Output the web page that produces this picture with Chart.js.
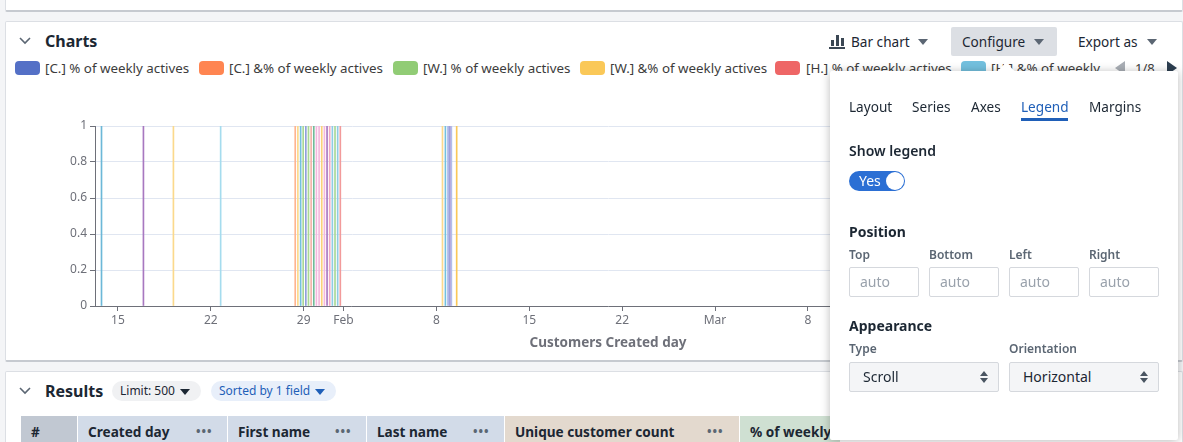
<!DOCTYPE html>
<html>
<head>
<meta charset="utf-8">
<script src="https://cdn.jsdelivr.net/npm/chart.js@4/dist/chart.umd.js"></script>
<style>
  html, body { margin: 0; padding: 0; }
  body { width: 1183px; height: 442px; overflow: hidden; position: relative; background: #f4f5f7; font-family: "Noto Sans", sans-serif; color: #1c2733; }
  .abs { position: absolute; white-space: nowrap; }
  .panel { position: absolute; background: #fff; border: 1px solid #dcdfe4; border-bottom: 2px solid #c6cad0; border-radius: 2px; box-sizing: border-box; }
  .caret { position: absolute; width: 0; height: 0; border-left: 5px solid transparent; border-right: 5px solid transparent; border-top: 6px solid #5b6673; }
  .swatch { position: absolute; top: 61px; width: 25px; height: 14px; border-radius: 4px; }
  .legend-text { position: absolute; top: 59px; font-size: 13.35px; line-height: 18px; color: #3c3c3c; white-space: nowrap; }
  .th { position: absolute; top: 416px; height: 30px; line-height: 31px; font-size: 13.6px; font-weight: 700; padding-left: 10px; box-sizing: border-box; white-space: nowrap; overflow: hidden; color: #1c2733; }
  .dots { position: absolute; top: 416px; line-height: 31px; font-size: 12px; font-weight: 700; color: #5b6673; letter-spacing: 1px; }
  #popup { position: absolute; left: 830px; top: 71px; width: 348px; height: 369px; background: #fff; border-radius: 2px; box-shadow: 0 1px 10px rgba(0,0,0,.28); }
  #notch { position: absolute; left: 1000px; top: 65px; width: 12px; height: 12px; background: #fff; transform: rotate(45deg); }
  .lbl { font-size: 12px; font-weight: 600; color: #5b6673; }
  .head { font-size: 14px; font-weight: 700; color: #1c2733; }
  .tool { font-size: 13.6px; line-height: 20px; }
  .inp { position: absolute; width: 70px; height: 30px; border: 1px solid #d5d8dd; border-radius: 2px; box-sizing: border-box; font-size: 14px; line-height: 28px; padding-left: 10px; color: #9aa2ac; }
  .sel { position: absolute; top: 362px; width: 150px; height: 30px; border: 1px solid #d5d8dd; border-radius: 2px; box-sizing: border-box; background: #f4f5f7; font-size: 14px; line-height: 28px; padding-left: 13px; color: #1c2733; }
  .updown { position: absolute; right: 9px; top: 7px; }
</style>
</head>
<body>
<div class="panel" style="left:5px;top:-10px;width:1178px;height:22px;"></div>
<div class="panel" style="left:5px;top:21px;width:1178px;height:341px;"></div>
<div class="panel" style="left:5px;top:371px;width:1178px;height:90px;"></div>

<svg class="abs" style="left:18px;top:36px" width="14" height="10"><path d="M2 2 L7 7 L12 2" fill="none" stroke="#5b6673" stroke-width="1.6"/></svg>
<div class="abs" style="left:45px;top:30px;font-size:16px;font-weight:700;line-height:22px;">Charts</div>

<svg class="abs" style="left:828px;top:34px" width="18" height="15"><path d="M1 14h16" stroke="#3b4754" stroke-width="2"/><path d="M3 6h3v6H3zM8 1h3v11H8zM13 4h3v8h-3z" fill="#3b4754"/></svg>
<div class="abs tool" style="left:851px;top:32px;">Bar chart</div>
<div class="caret" style="left:918px;top:39px"></div>
<div class="abs" style="left:951px;top:27px;width:106px;height:29px;background:#dcdfe4;border-radius:2px;"></div>
<div class="abs tool" style="left:962px;top:32px;">Configure</div>
<div class="caret" style="left:1034px;top:39px"></div>
<div class="abs tool" style="left:1078px;top:32px;">Export as</div>
<div class="caret" style="left:1147px;top:39px"></div>

<div id="legend"></div>

<canvas id="chart" class="abs" style="left:0;top:101px" width="1183" height="260"></canvas>

<svg class="abs" style="left:18px;top:386px" width="14" height="10"><path d="M2 2 L7 7 L12 2" fill="none" stroke="#5b6673" stroke-width="1.6"/></svg>
<div class="abs" style="left:45px;top:380px;font-size:16px;font-weight:700;line-height:22px;">Results</div>
<div class="abs" style="left:112px;top:381px;width:89px;height:20px;border-radius:10px;background:#f0f1f3;font-size:12px;line-height:20px;padding-left:8px;box-sizing:border-box;color:#1c2733;">Limit: 500</div>
<div class="caret" style="left:180px;top:389px;border-top-color:#1c2733"></div>
<div class="abs" style="left:211px;top:381px;width:125px;height:20px;border-radius:10px;background:#e8effa;font-size:12px;line-height:20px;padding-left:8px;box-sizing:border-box;color:#1f5fb8;">Sorted by 1 field</div>
<div class="caret" style="left:315px;top:389px;border-top-color:#1f5fb8"></div>

<div class="th" style="left:21px;width:56px;background:#c1c8d2;">#</div>
<div class="th" style="left:78px;width:149px;background:#d2dbe8;">Created day</div><div class="dots" style="left:196px">•••</div>
<div class="th" style="left:228px;width:138px;background:#d2dbe8;">First name</div><div class="dots" style="left:335px">•••</div>
<div class="th" style="left:367px;width:137px;background:#d2dbe8;">Last name</div><div class="dots" style="left:473px">•••</div>
<div class="th" style="left:505px;width:234px;background:#e3d9ce;">Unique customer count</div><div class="dots" style="left:707px">•••</div>
<div class="th" style="left:740px;width:100px;background:#cfe0d2;">% of weekly actives</div>

<svg class="abs" style="left:1113px;top:60px" width="13" height="16"><path d="M12 1 L12 15 L2 8 Z" fill="#a9aeb5"/></svg>
<div class="abs" style="left:1135px;top:59px;font-size:13px;line-height:18px;color:#3c3c3c;">1/8</div>
<svg class="abs" style="left:1166px;top:60px" width="13" height="16"><path d="M1 1 L1 15 L11 8 Z" fill="#2c3e50"/></svg>

<div id="popup"></div>
<div id="notch"></div>
<div class="abs" style="left:1000px;top:71px;width:14px;height:8px;background:#fff;"></div>
<div class="abs tool" style="left:849px;top:97px;">Layout</div>
<div class="abs tool" style="left:912px;top:97px;">Series</div>
<div class="abs tool" style="left:971px;top:97px;">Axes</div>
<div class="abs tool" style="left:1021px;top:97px;color:#1f5fb8;">Legend</div>
<div class="abs" style="left:1021px;top:118px;width:47px;height:3px;background:#1f5fb8;"></div>
<div class="abs tool" style="left:1089px;top:97px;">Margins</div>
<div class="abs head" style="left:849px;top:141px;font-weight:600;line-height:20px;">Show legend</div>
<div class="abs" style="left:849px;top:171px;width:56px;height:20px;border-radius:10px;background:#2b6fd4;"></div>
<div class="abs" style="left:859px;top:172px;font-size:14px;line-height:18px;color:#fff;">Yes</div>
<div class="abs" style="left:886px;top:172px;width:18px;height:18px;border-radius:9px;background:#fff;"></div>
<div class="abs head" style="left:849px;top:222px;line-height:20px;">Position</div>
<div class="abs lbl" style="left:849px;top:246px;">Top</div>
<div class="abs lbl" style="left:929px;top:246px;">Bottom</div>
<div class="abs lbl" style="left:1009px;top:246px;">Left</div>
<div class="abs lbl" style="left:1089px;top:246px;">Right</div>
<div id="inputs"></div>
<div class="abs head" style="left:849px;top:316px;line-height:20px;">Appearance</div>
<div class="abs lbl" style="left:849px;top:340px;">Type</div>
<div class="abs lbl" style="left:1009px;top:340px;">Orientation</div>
<div class="sel" style="left:849px;">Scroll<svg class="updown" width="10" height="14"><path d="M1 6 L5 1 L9 6Z M1 8 L5 13 L9 8Z" fill="#4a5562"/></svg></div>
<div class="sel" style="left:1009px;">Horizontal<svg class="updown" width="10" height="14"><path d="M1 6 L5 1 L9 6Z M1 8 L5 13 L9 8Z" fill="#4a5562"/></svg></div>

<script>
// Legend shown on the first page
const legendNames = ['[C.] % of weekly actives', '[C.] &% of weekly actives', '[W.] % of weekly actives', '[W.] &% of weekly actives', '[H.] % of weekly actives', '[H.] &% of weekly actives'];
const legendColors = ['#5470c6', '#ff8551', '#91cc75', '#fac858', '#ee6666', '#73c0de'];
const legendSwatchX = [15, 199, 393, 580, 775, 961];
const legendTextX = [45, 229, 423, 610, 806, 991];

// Axis ticks: day of the year and its label
const tickDays = [14, 21, 28, 31, 38, 45, 52, 59, 66, 73, 80, 87];
const tickLabels = ['15', '22', '29', 'Feb', '8', '15', '22', 'Mar', '8', '15', '22', '29'];

// One bar per customer, all at 100%
const barDays = [12.76, 15.92, 18.18, 21.74, 27.36, 27.56, 27.77, 27.96, 28.16, 28.36, 28.56, 28.76, 28.96, 29.16, 29.36, 29.56, 29.76, 29.96, 30.16, 30.36, 30.56, 30.76, 38.46, 38.68, 38.87, 38.98, 39.06, 39.13, 39.53];
const barValues = [1, 1, 1, 1, 1, 1, 1, 1, 1, 1, 1, 1, 1, 1, 1, 1, 1, 1, 1, 1, 1, 1, 1, 1, 1, 1, 1, 1, 1];
const barColors = ['#6cb8d8', '#a878c0', '#fbd98c', '#a5dcee', '#ffb48f', '#fbd98c', '#73c0de', '#a9d895', '#8f9fdc', '#a9d895', '#f2b3a8', '#6fbb97', '#f5b8dd', '#f5b8dd', '#fad27a', '#f5b8dd', '#a878c0', '#f4a9c2', '#8fcce3', '#a9d895', '#8fcce3', '#f29a9a', '#fbd98c', '#73c0de', '#b3bdea', '#8f9fdc', '#b9a0d8', '#b3bdea', '#fac858'];

// Legend items
legendNames.forEach((name, i) => {
  const swatch = document.createElement('div');
  swatch.className = 'swatch';
  swatch.style.left = legendSwatchX[i] + 'px';
  swatch.style.background = legendColors[i];
  document.getElementById('legend').appendChild(swatch);
  const text = document.createElement('div');
  text.className = 'legend-text';
  text.style.left = legendTextX[i] + 'px';
  text.textContent = name;
  if (i === 5) {
    text.style.width = '112px';
    text.style.overflow = 'hidden';
  }
  document.getElementById('legend').appendChild(text);
});

[849, 929, 1009, 1089].forEach(x => {
  const input = document.createElement('div');
  input.className = 'inp';
  input.style.left = x + 'px';
  input.style.top = '267px';
  input.textContent = 'auto';
  document.getElementById('inputs').appendChild(input);
});

const axisColor = '#6e7079';

new Chart(document.getElementById('chart'), {
  type: 'bar',
  data: {
    datasets: [{
      data: barDays.map((d, i) => ({ x: d, y: barValues[i] })),
      backgroundColor: barColors,
      barThickness: 1
    }]
  },
  options: {
    responsive: false,
    animation: false,
    layout: { padding: { left: 0, right: 62, top: 25, bottom: 0 } },
    plugins: { legend: { display: false }, tooltip: { enabled: false } },
    scales: {
      x: {
        type: 'linear',
        offset: false,
        min: 12.27,
        max: 89.6,
        afterBuildTicks: axis => { axis.ticks = tickDays.map(v => ({ value: v })); },
        afterFit: axis => { axis.height = 55; },
        grid: { offset: false, drawOnChartArea: false, tickLength: 5, tickColor: axisColor },
        border: { color: axisColor },
        ticks: {
          color: axisColor,
          font: { family: 'Noto Sans', size: 12 },
          maxRotation: 0,
          autoSkip: false,
          padding: 2,
          callback: value => tickLabels[tickDays.indexOf(value)]
        },
        title: {
          display: true,
          text: 'Customers Created day',
          color: axisColor,
          font: { family: 'Noto Sans', size: 13.5, weight: 'bold' },
          padding: { top: 6, bottom: 10 }
        }
      },
      y: {
        min: 0,
        max: 1,
        afterFit: axis => { axis.width = 95; },
        grid: { color: '#e0e6f1', tickLength: 5, tickColor: axisColor },
        border: { color: axisColor },
        ticks: {
          stepSize: 0.2,
          color: axisColor,
          font: { family: 'Noto Sans', size: 12 },
          padding: 3,
          callback: value => String(+value.toFixed(1))
        }
      }
    }
  }
});
</script>
</body>
</html>
